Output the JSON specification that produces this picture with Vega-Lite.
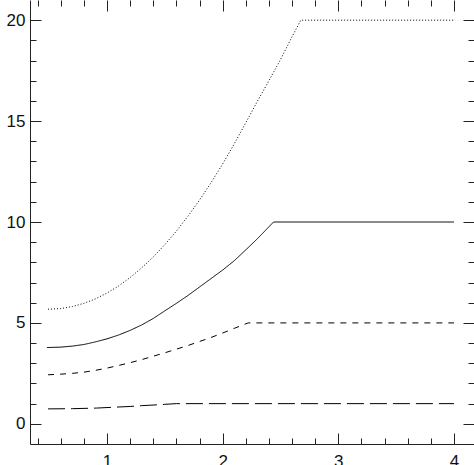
{
  "$schema": "https://vega.github.io/schema/vega-lite/v6.json",
  "width": 444,
  "height": 444,
  "autosize": {"type": "none"},
  "padding": {"left": 30, "top": 0, "right": 0, "bottom": 21},
  "background": "white",
  "config": {
    "view": {"stroke": null},
    "axis": {"grid": false, "domainColor": "#222", "tickColor": "#222", "labelColor": "#111", "labelFont": "Liberation Sans", "labelFontSize": 17, "tickWidth": 1, "domainWidth": 1, "title": null}
  },
  "data": {"values": [
    {"s": "a", "x": 0.49, "y": 5.68}, {"s": "a", "x": 0.6, "y": 5.71}, {"s": "a", "x": 0.7, "y": 5.81}, {"s": "a", "x": 0.8, "y": 5.97}, {"s": "a", "x": 0.9, "y": 6.19}, {"s": "a", "x": 1.0, "y": 6.48}, {"s": "a", "x": 1.1, "y": 6.83}, {"s": "a", "x": 1.2, "y": 7.25}, {"s": "a", "x": 1.3, "y": 7.73}, {"s": "a", "x": 1.4, "y": 8.27}, {"s": "a", "x": 1.5, "y": 8.88}, {"s": "a", "x": 1.6, "y": 9.55}, {"s": "a", "x": 1.7, "y": 10.29}, {"s": "a", "x": 1.8, "y": 11.09}, {"s": "a", "x": 1.9, "y": 11.95}, {"s": "a", "x": 2.0, "y": 12.88}, {"s": "a", "x": 2.1, "y": 13.87}, {"s": "a", "x": 2.2, "y": 14.92}, {"s": "a", "x": 2.3, "y": 15.98}, {"s": "a", "x": 2.4, "y": 17.0}, {"s": "a", "x": 2.5, "y": 18.05}, {"s": "a", "x": 2.6, "y": 19.18}, {"s": "a", "x": 2.675, "y": 20}, {"s": "a", "x": 4.0, "y": 20},
    {"s": "b", "x": 0.48, "y": 3.78}, {"s": "b", "x": 0.6, "y": 3.8}, {"s": "b", "x": 0.7, "y": 3.85}, {"s": "b", "x": 0.8, "y": 3.93}, {"s": "b", "x": 0.9, "y": 4.06}, {"s": "b", "x": 1.0, "y": 4.21}, {"s": "b", "x": 1.1, "y": 4.4}, {"s": "b", "x": 1.2, "y": 4.63}, {"s": "b", "x": 1.3, "y": 4.9}, {"s": "b", "x": 1.4, "y": 5.22}, {"s": "b", "x": 1.5, "y": 5.6}, {"s": "b", "x": 1.6, "y": 5.97}, {"s": "b", "x": 1.7, "y": 6.36}, {"s": "b", "x": 1.8, "y": 6.78}, {"s": "b", "x": 1.9, "y": 7.2}, {"s": "b", "x": 2.0, "y": 7.62}, {"s": "b", "x": 2.1, "y": 8.08}, {"s": "b", "x": 2.2, "y": 8.62}, {"s": "b", "x": 2.3, "y": 9.17}, {"s": "b", "x": 2.44, "y": 10}, {"s": "b", "x": 4.0, "y": 10},
    {"s": "c", "x": 0.49, "y": 2.43}, {"s": "c", "x": 0.6, "y": 2.46}, {"s": "c", "x": 0.7, "y": 2.5}, {"s": "c", "x": 0.8, "y": 2.56}, {"s": "c", "x": 0.9, "y": 2.65}, {"s": "c", "x": 1.0, "y": 2.76}, {"s": "c", "x": 1.1, "y": 2.89}, {"s": "c", "x": 1.2, "y": 3.03}, {"s": "c", "x": 1.3, "y": 3.18}, {"s": "c", "x": 1.4, "y": 3.35}, {"s": "c", "x": 1.5, "y": 3.52}, {"s": "c", "x": 1.6, "y": 3.7}, {"s": "c", "x": 1.7, "y": 3.88}, {"s": "c", "x": 1.8, "y": 4.08}, {"s": "c", "x": 1.9, "y": 4.28}, {"s": "c", "x": 2.0, "y": 4.5}, {"s": "c", "x": 2.1, "y": 4.73}, {"s": "c", "x": 2.22, "y": 5}, {"s": "c", "x": 4.0, "y": 5},
    {"s": "d", "x": 0.49, "y": 0.74}, {"s": "d", "x": 0.7, "y": 0.75}, {"s": "d", "x": 0.91, "y": 0.78}, {"s": "d", "x": 1.05, "y": 0.82}, {"s": "d", "x": 1.2, "y": 0.86}, {"s": "d", "x": 1.3, "y": 0.9}, {"s": "d", "x": 1.43, "y": 0.94}, {"s": "d", "x": 1.5, "y": 0.965}, {"s": "d", "x": 1.6, "y": 1.0}, {"s": "d", "x": 4.0, "y": 1.0}
  ]},
  "layer": [
    {
      "mark": {"type": "line", "color": "#000", "strokeWidth": 1},
      "encoding": {
        "x": {"field": "x", "type": "quantitative", "scale": {"domain": [0.334, 4.173], "nice": false, "zero": false},
          "axis": {"orient": "bottom", "values": [0.4, 0.6, 0.8, 1, 1.2, 1.4, 1.6, 1.8, 2, 2.2, 2.4, 2.6, 2.8, 3, 3.2, 3.4, 3.6, 3.8, 4],
            "tickSize": {"condition": {"test": "abs(datum.value - round(datum.value)) < 0.01", "value": -11}, "value": -6},
            "labelExpr": "abs(datum.value - round(datum.value)) < 0.01 ? format(datum.value, 'd') : ''", "labelPadding": 20}},
        "y": {"field": "y", "type": "quantitative", "scale": {"domain": [-1, 21], "nice": false, "zero": false},
          "axis": {"orient": "left", "values": [0, 1, 2, 3, 4, 5, 6, 7, 8, 9, 10, 11, 12, 13, 14, 15, 16, 17, 18, 19, 20],
            "tickSize": {"condition": {"test": "datum.value % 5 == 0", "value": -11}, "value": -6},
            "labelExpr": "datum.value % 5 == 0 ? datum.label : ''", "labelPadding": 16}},
        "strokeDash": {"field": "s", "type": "nominal", "scale": {"domain": ["a", "b", "c", "d"], "range": [[1, 2], [1, 0], [6, 6], [17, 6]]}, "legend": null}
      }
    },
    {
      "mark": {"type": "line", "strokeOpacity": 0},
      "encoding": {
        "x": {"field": "x", "type": "quantitative",
          "axis": {"orient": "top", "domain": false, "labels": false, "values": [0.4, 0.6, 0.8, 1, 1.2, 1.4, 1.6, 1.8, 2, 2.2, 2.4, 2.6, 2.8, 3, 3.2, 3.4, 3.6, 3.8, 4],
            "tickSize": {"condition": {"test": "abs(datum.value - round(datum.value)) < 0.01", "value": -11}, "value": -6}}},
        "y": {"field": "y", "type": "quantitative",
          "axis": {"orient": "right", "domain": false, "labels": false, "values": [0, 1, 2, 3, 4, 5, 6, 7, 8, 9, 10, 11, 12, 13, 14, 15, 16, 17, 18, 19, 20],
            "tickSize": {"condition": {"test": "datum.value % 5 == 0", "value": -11}, "value": -6}}},
        "detail": {"field": "s", "type": "nominal"}
      }
    }
  ],
  "resolve": {"axis": {"x": "independent", "y": "independent"}}
}
